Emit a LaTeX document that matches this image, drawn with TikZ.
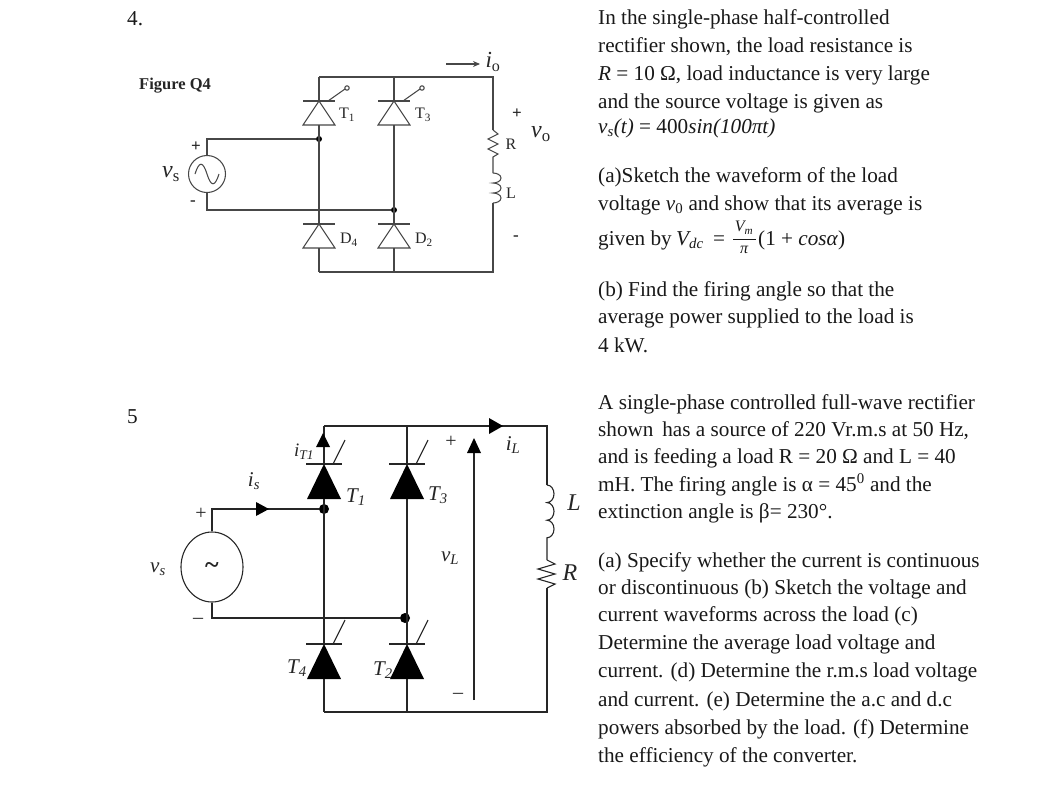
\documentclass[tikz,border=0pt]{standalone}
\usepackage{fontspec}
\usepackage{amsmath}
\setmainfont{Liberation Serif}
\usetikzlibrary{arrows.meta,shapes.geometric}
\newcommand{\fs}[1]{\fontsize{#1}{#1}\selectfont}
\newcommand{\lowsub}[1]{\textsubscript{#1}}
\tikzset{
  wireA/.style={draw=black!72,line width=1.05pt},
  wireB/.style={draw=black!85,line width=1.1pt},
  para/.style={anchor=base west,inner sep=0pt,text=black!90,font=\fs{21.2}},
  labA/.style={inner sep=0pt,text=black!85,font=\fs{16}},
  labB/.style={inner sep=0pt,text=black!85,font=\fs{21}\itshape},
  dotA/.style={circle,fill=black,inner sep=0pt,minimum size=6pt},
  dotB/.style={circle,fill=black,inner sep=0pt,minimum size=10pt},
  diodeA/.pic={
    \draw[wireA] (-16,0) -- (16,0);
    \draw[wireA] (0,0) -- (-16,24) -- (16,24) -- cycle;
    \coordinate (-bar) at (0,0);
    \coordinate (-base) at (0,24);
  },
  scrA/.pic={
    \draw[wireA] (-16,0) -- (16,0);
    \draw[wireA] (0,0) -- (-16,24) -- (16,24) -- cycle;
    \draw[wireA] (9,0) -- (26,-12);
    \draw[wireA,fill=white] (28,-13) circle (2.2);
    \coordinate (-bar) at (0,0);
    \coordinate (-base) at (0,24);
  },
  scrB/.pic={
    \draw[wireB] (-18,0) -- (18,0);
    \fill[black] (0,0) -- (-17,35) -- (17,35) -- cycle;
    \draw[wireB] (9,0) -- (21,-24);
    \coordinate (-bar) at (0,0);
    \coordinate (-base) at (0,35);
  },
}
\begin{document}
\begin{tikzpicture}[x=1pt,y=-1pt]
\useasboundingbox (0,0) rectangle (1064,809);
\fill[white] (0,0) rectangle (1064,809);

% ---------- Figure Q4 ----------
\node[para] (q4) at (127,25) {4.};
\node[anchor=west,inner sep=0pt,font=\fs{16.5}\bfseries,text=black!85] (figq) at (139,86) {Figure Q4};

\coordinate (atl) at (319,77);
\coordinate (atm) at (394,77);
\coordinate (atr) at (493,77);
\coordinate (abl) at (319,272);
\coordinate (abm) at (394,272);
\coordinate (abr) at (493,272);
\pic (t1) at (319,101) {scrA};
\pic (t3) at (394,101) {scrA};
\pic (d4) at (319,224) {diodeA};
\pic (d2) at (394,224) {diodeA};
\node[dotA] (ja) at (319,139) {};
\node[dotA] (jb) at (394,210) {};
\node[circle,draw=black!72,line width=1.05pt,minimum size=37pt,inner sep=0pt] (srcA) at (207,174) {};
\draw[wireA] (srcA.center) ++(-12,0) .. controls +(4,-13) and +(-4,-13) .. ++(12,0) .. controls +(4,13) and +(-4,13) .. ++(12,0);
\draw[wireA] (atl) -- (atr) -- (493,130);
\draw[wireA] (abl) -- (abr) -- (493,203);
\draw[wireA] (atl) -- (t1-bar);
\draw[wireA] (atm) -- (t3-bar);
\draw[wireA] (t1-base) -- (d4-bar);
\draw[wireA] (t3-base) -- (d2-bar);
\draw[wireA] (d4-base) -- (abl);
\draw[wireA] (d2-base) -- (abm);
\draw[wireA] (srcA.north) |- (ja);
\draw[wireA] (srcA.south) |- (jb);
% resistor and inductor
\draw[wireA] (493,130) -- (498,134) -- (488,139) -- (498,144) -- (488,149) -- (498,154) -- (493,157) -- (493,173);
\draw[wireA] (493,173) arc[start angle=-90,end angle=90,x radius=8,y radius=5]
  arc[start angle=-90,end angle=90,x radius=8,y radius=5]
  arc[start angle=-90,end angle=90,x radius=8,y radius=5];
\draw[wireA,-{Stealth[length=7pt,width=6pt]}] (446,64) -- (480,64);
\node[labA] (lt1) at (347,115) {T\lowsub{1}};
\node[labA] (lt3) at (423,115) {T\lowsub{3}};
\node[labA] (ld4) at (349,240) {D\lowsub{4}};
\node[labA] (ld2) at (424,240) {D\lowsub{2}};
\node[labA] (lr) at (511,144) {R};
\node[labA] (ll) at (511,193) {L};
\node[labA,font=\fs{17}\bfseries] (pa) at (517,114) {+};
\node[labA,font=\fs{17}\bfseries] (ma) at (516,238) {-};
\node[labA,font=\fs{17}\bfseries] (ps) at (196,147) {+};
\node[labA,font=\fs{17}\bfseries] (ms) at (193,203) {-};
\node[labA,font=\fs{23}] (io) at (493,62) {\textit{i}\lowsub{o}};
\node[labA,font=\fs{24}] (vo) at (541,134) {\textit{v}\lowsub{o}};
\node[labA,font=\fs{24}] (vs) at (171,174) {\textit{v}\lowsub{s}};

% ---------- Figure 5 ----------
\node[para] (q5) at (127,423) {5};
\coordinate (btl) at (324,426);
\coordinate (btm) at (407,426);
\coordinate (btr) at (547,426);
\coordinate (bbl) at (324,712);
\coordinate (bbm) at (407,712);
\coordinate (bbr) at (547,712);
\pic (bt1) at (324,464) {scrB};
\pic (bt3) at (407,464) {scrB};
\pic (bt4) at (324,644) {scrB};
\pic (bt2) at (407,644) {scrB};
\node[dotB] (jc) at (324,509) {};
\node[dotB] (jd) at (405,618) {};
\node[ellipse,draw=black!85,line width=1.1pt,minimum width=62pt,minimum height=70pt,inner sep=0pt] (srcB) at (212,567) {};
\draw[wireB] (srcB.north) |- (jc);
\draw[wireB] (srcB.south) |- (jd);
\draw[wireB] (btl) -- (btr) -- (547,485);
\draw[wireB] (bbl) -- (bbr) -- (547,588);
\draw[wireB] (btl) -- (bt1-bar);
\draw[wireB] (btm) -- (bt3-bar);
\draw[wireB] (bt1-base) -- (bt4-bar);
\draw[wireB] (bt3-base) -- (bt2-bar);
\draw[wireB] (bt4-base) -- (bbl);
\draw[wireB] (bt2-base) -- (bbm);
\draw[wireB] (547,485) arc[start angle=-90,end angle=90,x radius=7,y radius=8.8]
  arc[start angle=-90,end angle=90,x radius=7,y radius=8.8]
  arc[start angle=-90,end angle=90,x radius=7,y radius=8.8] -- (547,560);
\draw[wireB] (547,560) -- (555,564) -- (538,569) -- (555,574) -- (538,579) -- (555,584) -- (547,588);
% arrowheads
\fill[black] (256,502) -- (269,509) -- (256,516) -- cycle;
\fill[black] (316,447) -- (323,433) -- (330,447) -- cycle;
\fill[black] (489,418) -- (503,426) -- (489,434) -- cycle;
\coordinate (vlb) at (474,700);
\coordinate (vlt) at (474,440);
\draw[wireB] (vlb) -- (vlt);
\fill[black] (467,453) -- (474,438) -- (481,453) -- cycle;
\node[labB] (lbt1) at (356,497) {T\lowsub{1}};
\node[labB] (lbt3) at (438,495) {T\lowsub{3}};
\node[labB] (lbt4) at (297,668) {T\lowsub{4}};
\node[labB] (lbt2) at (383,670) {T\lowsub{2}};
\node[labB,font=\fs{19}\itshape] (lit1) at (304,452) {i\lowsub{T1}};
\node[labB] (lis) at (254,481) {i\lowsub{s}};
\node[labB] (lil) at (513,445) {i\lowsub{L}};
\node[labB] (lvl) at (450,558) {v\lowsub{L}};
\node[labB] (lvs) at (158,569) {v\lowsub{s}};
\node[labB,font=\fs{24}\itshape] (ll2) at (574,503) {L};
\node[labB,font=\fs{24}\itshape] (lr2) at (570,573) {R};
\node[labB,font=\fs{20}] (pb1) at (451,442) {+};
\node[labB,font=\fs{20}] (mb1) at (458,696) {--};
\node[labB,font=\fs{20}] (pb2) at (201,514) {+};
\node[labB,font=\fs{20}] (mb2) at (198,621) {--};
\node[labB,font=\fs{26}\bfseries] (tilde) at (212,568) {\textasciitilde};

% ---------- Text ----------
\node[para] (a1) at (598,24) {In the single-phase half-controlled};
\node[para] (a2) at (598,52) {rectifier shown, the load resistance is};
\node[para] (a3) at (598,80) {\textit{R} = 10 Ω, load inductance is very large};
\node[para] (a4) at (598,108) {and the source voltage is given as};
\node[para] (a5) at (598,133) {\textit{v\textsubscript{s}(t)} = 400\textit{sin(100πt)}};
\node[para] (a6) at (598,182) {(a)Sketch the waveform of the load};
\node[para] (a7) at (598,210) {voltage \textit{v}\textsubscript{0} and show that its average is};
\node[para] (a8) at (598,245) {given by};
\node[para] (a8b) at (676,245) {\textit{V\textsubscript{dc}}};
\node[para] (a8c) at (713,245) {=};
\node[inner sep=0pt,font=\fs{16}\itshape,text=black!90] (a8n) at (744,228) {V\textsubscript{m}};
\node[inner sep=0pt,font=\fs{16}\itshape,text=black!90] (a8d) at (744,250) {π};
\draw[black!90,line width=.7pt] (733,239) -- (756,239);
\node[para] (a8e) at (758,245) {(1 + \textit{cosα})};
\node[para] (a9) at (598,296) {(b) Find the firing angle so that the};
\node[para] (a10) at (598,323) {average power supplied to the load is};
\node[para] (a11) at (598,352) {4 kW.};
\node[para] (b1) at (598,409) {A single-phase controlled full-wave rectifier};
\node[para] (b2) at (598,436) {shown\, has a source of 220 Vr.m.s at 50 Hz,};
\node[para] (b3) at (598,463) {and is feeding a load R = 20 Ω and L = 40};
\node[para] (b4) at (598,491) {mH. The firing angle is α = 45\textsuperscript{0} and the};
\node[para] (b5) at (598,518) {extinction angle is β= 230°.};
\node[para] (c1) at (598,567) {(a) Specify whether the current is continuous};
\node[para] (c2) at (598,594) {or discontinuous (b) Sketch the voltage and};
\node[para] (c3) at (598,621) {current waveforms across the load (c)};
\node[para] (c4) at (598,649) {Determine the average load voltage and};
\node[para] (c5) at (598,677) {current. (d) Determine the r.m.s load voltage};
\node[para] (c6) at (598,706) {and current. (e) Determine the a.c and d.c};
\node[para] (c7) at (598,734) {powers absorbed by the load. (f) Determine};
\node[para] (c8) at (598,762) {the efficiency of the converter.};
\end{tikzpicture}
\end{document}
